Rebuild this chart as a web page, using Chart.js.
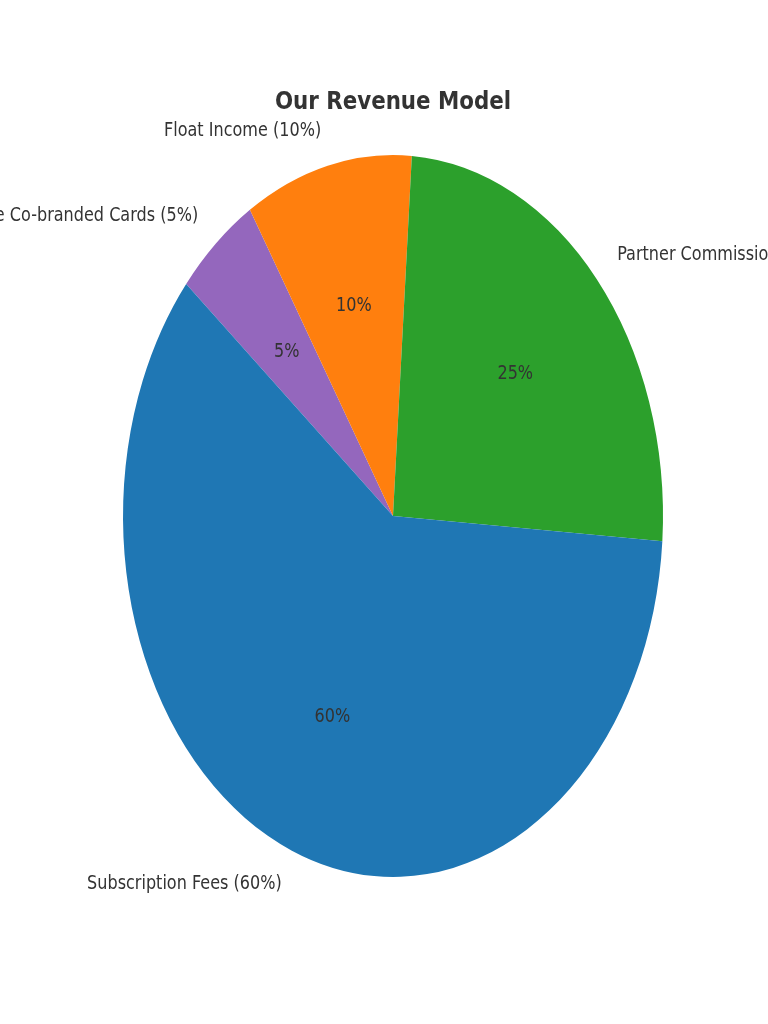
<!DOCTYPE html>
<html>
<head>
<meta charset="utf-8">
<title>Our Revenue Model</title>
<script src="https://cdn.jsdelivr.net/npm/chart.js@4/dist/chart.umd.min.js"></script>
<style>
  html, body { margin: 0; padding: 0; background: #ffffff; }
  #wrap { width: 768px; height: 1024px; }
</style>
</head>
<body>
<div id="wrap"><canvas id="pie" width="768" height="1024"></canvas></div>
<script>
// data, in the order the slices go round (counter-clockwise from 140 deg)
const sliceLabels = ['Subscription Fees', 'Partner Commissions', 'Float Income', 'Exclusive Co-branded Cards'];
const sliceValues = [60, 25, 10, 5];
const sliceColors = ['#1f77b4', '#2ca02c', '#ff7f0e', '#9467bd'];

const chartTitle = 'Our Revenue Model';

// the picture is squeezed sideways, so the pie comes out as an ellipse
const squeeze = 270 / 361;
const textSqueeze = 0.845;
const titleSqueeze = 0.855;
const centerX = 393;
const textColor = '#333333';
const fontFamily = '"DejaVu Sans", sans-serif';

// chart.js goes clockwise, so feed the slices in reverse
const drawLabels = sliceLabels.slice().reverse();
const drawValues = sliceValues.slice().reverse();
const drawColors = sliceColors.slice().reverse();

function squeezedText(ctx, text, x, y, align, factor) {
    ctx.save();
    ctx.translate(x, y);
    ctx.scale(factor, 1);
    ctx.textAlign = align;
    ctx.fillText(text, 0, 0);
    ctx.restore();
}

const squeezePlugin = {
    id: 'squeeze',
    beforeDatasetsDraw(chart) {
        const ctx = chart.ctx;
        ctx.save();
        ctx.translate(centerX, 0);
        ctx.scale(squeeze, 1);
        ctx.translate(-centerX, 0);
    },
    afterDatasetsDraw(chart) {
        chart.ctx.restore();
    },
    afterDraw(chart) {
        const ctx = chart.ctx;
        const meta = chart.getDatasetMeta(0);
        const total = drawValues.reduce((a, b) => a + b, 0);
        const toScreen = x => centerX + (x - centerX) * squeeze;

        ctx.save();
        ctx.fillStyle = textColor;
        ctx.textBaseline = 'middle';

        // title
        ctx.font = 'bold 25px ' + fontFamily;
        squeezedText(ctx, chartTitle, centerX, 102, 'center', titleSqueeze);

        // outer labels and percentages, placed like matplotlib does
        ctx.font = '19px ' + fontFamily;
        meta.data.forEach((arc, i) => {
            const mid = (arc.startAngle + arc.endAngle) / 2;
            const r = arc.outerRadius;
            const pct = Math.round(drawValues[i] / total * 100) + '%';

            const lx = toScreen(arc.x + Math.cos(mid) * r * 1.1);
            const ly = arc.y + Math.sin(mid) * r * 1.1;
            squeezedText(ctx, drawLabels[i] + ' (' + pct + ')', lx, ly,
                Math.cos(mid) > 0 ? 'left' : 'right', textSqueeze);

            const px = toScreen(arc.x + Math.cos(mid) * r * 0.6);
            const py = arc.y + Math.sin(mid) * r * 0.6;
            squeezedText(ctx, pct, px, py, 'center', textSqueeze);
        });

        ctx.restore();
    }
};

new Chart(document.getElementById('pie'), {
    type: 'pie',
    data: {
        labels: drawLabels,
        datasets: [{
            data: drawValues,
            backgroundColor: drawColors,
            borderWidth: 0,
            hoverOffset: 0
        }]
    },
    options: {
        responsive: false,
        animation: false,
        rotation: -50,
        layout: {
            padding: { left: 32, right: 14, top: 155, bottom: 147 }
        },
        plugins: {
            legend: { display: false },
            title: { display: false },
            tooltip: { enabled: false }
        }
    },
    plugins: [squeezePlugin]
});
</script>
</body>
</html>
